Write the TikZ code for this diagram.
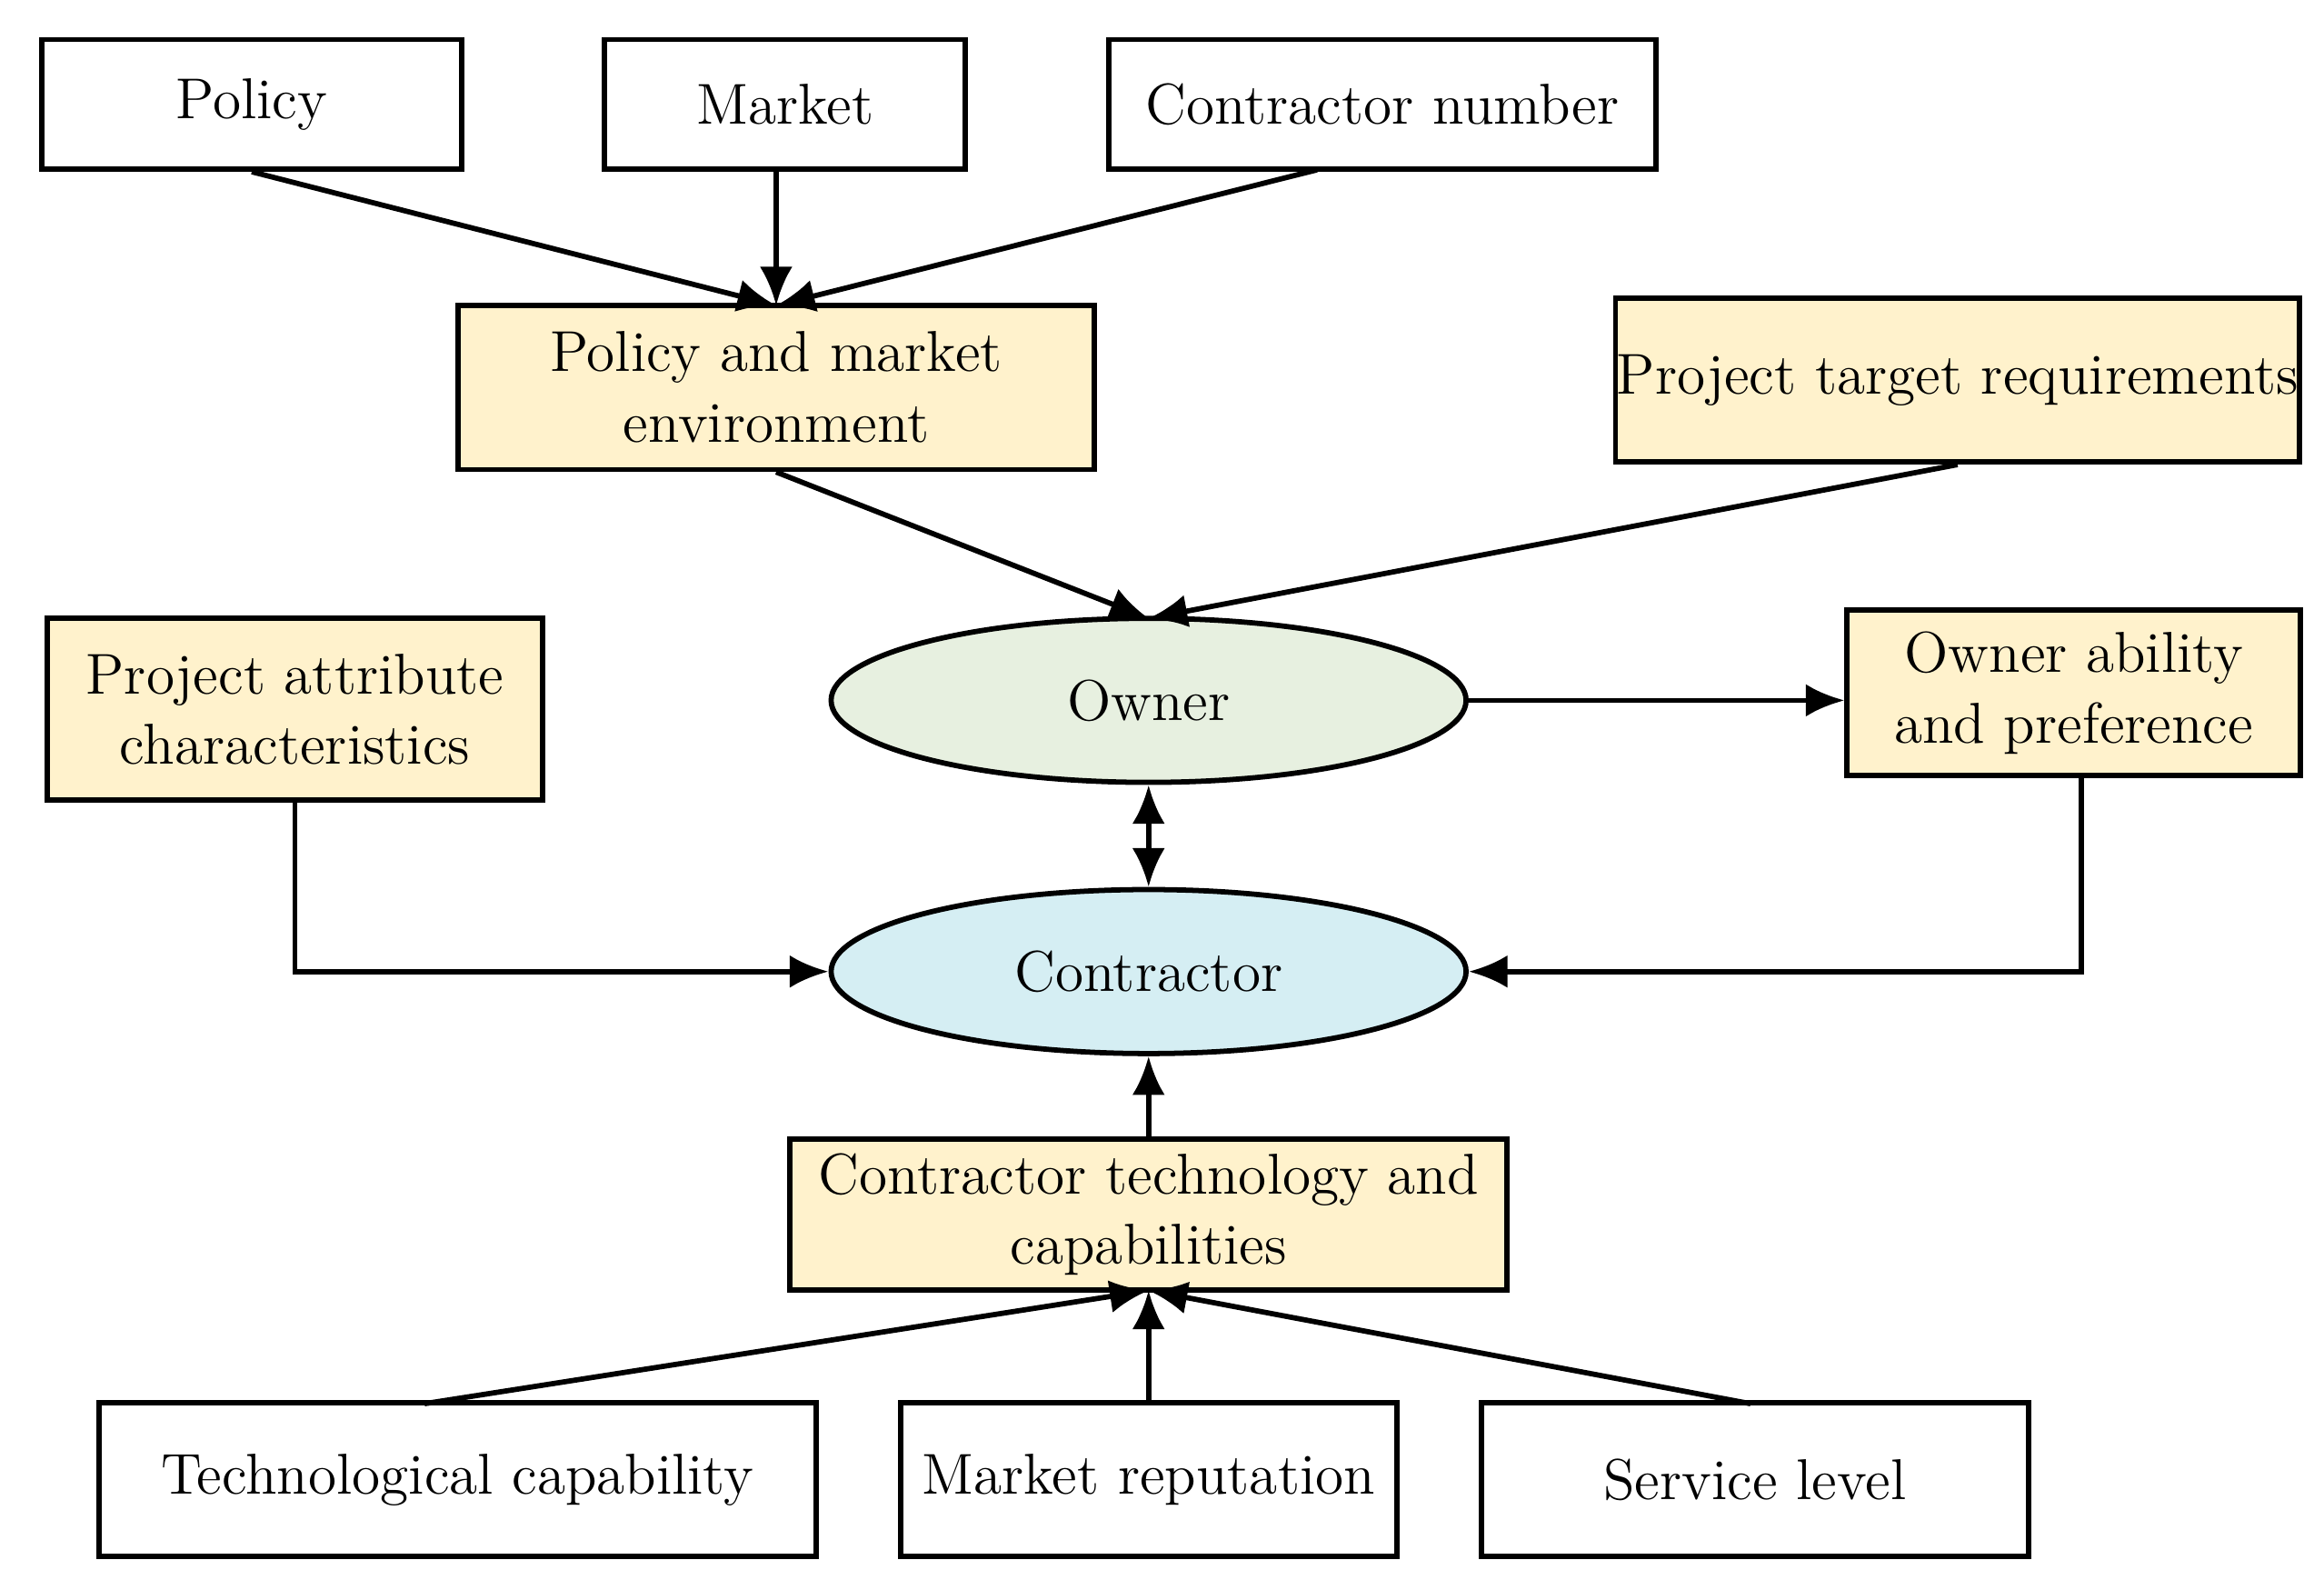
\documentclass[tikz,border=0pt]{standalone}
\usetikzlibrary{arrows.meta,shapes.geometric}
\begin{document}
\begin{tikzpicture}[x=0.01cm,y=-0.01cm,
  box/.style={draw,line width=1pt,align=center,font=\fontsize{11}{13.5}\selectfont,inner sep=0pt},
  yb/.style={box,fill=yellowbox},
  ell/.style={draw,ellipse,line width=1pt,minimum width=4.26cm,minimum height=1.1cm,font=\fontsize{11}{13.5}\selectfont},
  arr/.style={line width=1pt,-{Latex[length=0.26cm,width=0.22cm]}},
  darr/.style={line width=1pt,{Latex[length=0.26cm,width=0.22cm]}-{Latex[length=0.26cm,width=0.22cm]}}]
\definecolor{yellowbox}{HTML}{FFF2CC}
\definecolor{ownerc}{HTML}{E7F0E0}
\definecolor{contc}{HTML}{D5EEF3}
\useasboundingbox (0,0) rectangle (1560,1060);
\node[box,minimum width=2.82cm,minimum height=0.87cm] (pol) at (169,70) {Policy};
\node[box,minimum width=2.42cm,minimum height=0.87cm] (mkt) at (527,70) {Market};
\node[box,minimum width=3.67cm,minimum height=0.87cm] (cn) at (928,70) {Contractor number};
\node[yb,minimum width=4.27cm,minimum height=1.1cm] (pme) at (521,260) {Policy and market\\environment};
\node[yb,minimum width=4.59cm,minimum height=1.1cm] (ptr) at (1314,255) {Project target requirements};
\node[ell,fill=ownerc] (own) at (771,470) {Owner};
\node[yb,minimum width=3.32cm,minimum height=1.22cm] (pac) at (198,476) {Project attribute\\characteristics};
\node[yb,minimum width=3.04cm,minimum height=1.11cm] (oap) at (1392,465) {Owner ability\\and preference};
\node[ell,fill=contc] (con) at (771,652) {Contractor};
\node[yb,minimum width=4.81cm,minimum height=1.01cm] (ctc) at (771,815) {Contractor technology and\\capabilities};
\node[box,minimum width=4.81cm,minimum height=1.03cm] (tc) at (307,993) {Technological capability};
\node[box,minimum width=3.33cm,minimum height=1.03cm] (mr) at (771,993) {Market reputation};
\node[box,minimum width=3.67cm,minimum height=1.03cm] (sl) at (1178,993) {Service level};
\coordinate (pmeT) at (521,205);
\coordinate (ownT) at (771,415);
\coordinate (ctcB) at (771,866);
\draw[arr] (pol.south) -- (pmeT);
\draw[arr] (mkt.south -| pmeT) -- (pmeT);
\draw[arr] (884,114) -- (pmeT);
\draw[arr] (pme.south) -- (ownT);
\draw[arr] (ptr.south) -- (ownT);
\draw[arr] (own.east) -- (oap.west |- own.east);
\draw[darr] (own.south) -- (con.north);
\draw[arr] (pac.south) |- (con.west);
\draw[arr] (1397,521) |- (con.east);
\draw[arr] (ctc.north) -- (con.south);
\draw[arr] (285,942) -- (ctcB);
\draw[arr] (mr.north) -- (ctcB);
\draw[arr] (1175,942) -- (ctcB);
\end{tikzpicture}
\end{document}
